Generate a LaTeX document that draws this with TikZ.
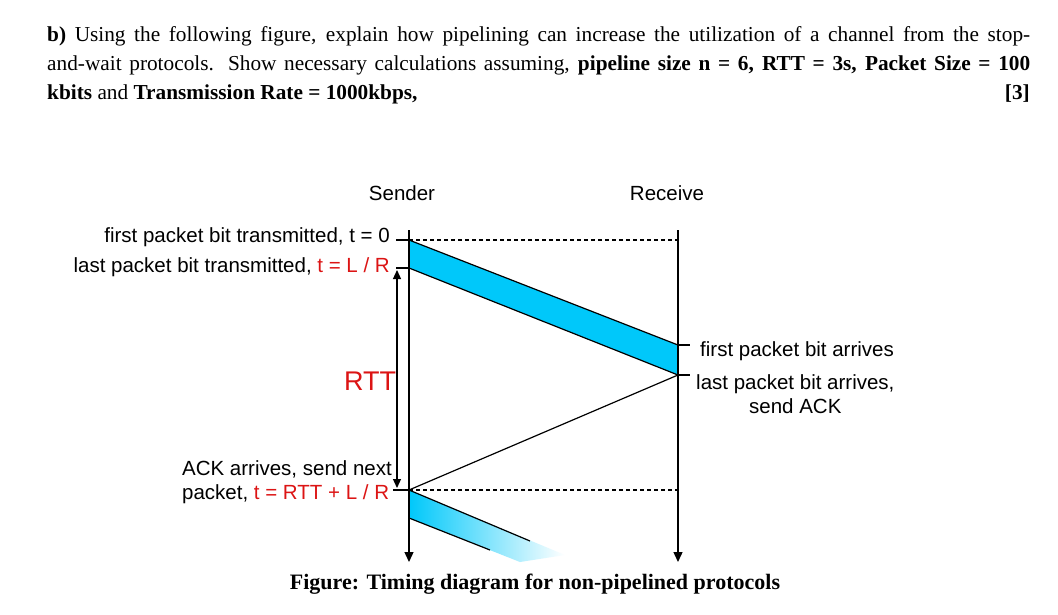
\documentclass[tikz,border=0pt]{standalone}
\usepackage{fontspec}
\setmainfont{Liberation Serif}
\newfontfamily\arialf{Liberation Sans}
\usetikzlibrary{arrows.meta}
\definecolor{pk}{RGB}{0,200,250}
\definecolor{rd}{RGB}{220,20,20}
\begin{document}
\begin{tikzpicture}[x=1pt,y=-1pt,
  lbl/.style={font=\arialf\fontsize{20.5}{24}\selectfont,inner sep=0pt},
  hdr/.style={font=\fontsize{21.3}{24}\selectfont,inner sep=0pt,anchor=west},
  tl/.style={-{Triangle[length=10pt,width=9pt]},line width=1.3pt},
  thinl/.style={line width=1.2pt}]
\useasboundingbox (0,0) rectangle (1058,614);
\fill[white] (0,0) rectangle (1058,614);
% header
\node[hdr] (h1) at (47,36) {\makebox[983pt][s]{\textbf{b)} Using the following figure, explain how pipelining can increase the utilization of a channel from the stop-}};
\node[hdr] (h2) at (47,65) {\makebox[983pt][s]{and-wait protocols. Show necessary calculations assuming, \textbf{pipeline size n = 6, RTT = 3s, Packet Size = 100}}};
\node[hdr] (h3) at (47,94) {\textbf{kbits} and \textbf{Transmission Rate = 1000kbps,}};
\node[hdr,anchor=east] (h4) at (1030,94) {\textbf{[3]}};
% coordinates
\coordinate (s0) at (409,230); \coordinate (s1) at (409,562);
\coordinate (r0) at (678,230); \coordinate (r1) at (678,562);
\coordinate (a) at (409,240); \coordinate (b) at (409,268);
\coordinate (c) at (678,345); \coordinate (d) at (678,375);
\coordinate (e) at (409,490); \coordinate (f) at (409,518);
% packet
\fill[pk,draw=black,thinl] (a) -- (c) -- (d) -- (b) -- cycle;
% next packet
\shade[left color=pk,right color=white,shading angle=90] (e) -- (565,555) -- (520,562) -- (f) -- cycle;
\draw[thinl] (e) -- (530,541);
\draw[thinl] (f) -- (490,550);
% lines
\draw[tl] (s0) -- (s1);
\draw[tl] (r0) -- (r1);
\draw[thinl,dash pattern=on 4pt off 3pt] (a) -- (a -| r0);
\draw[thinl,dash pattern=on 4pt off 3pt] (e) -- (e -| r0);
\draw[thinl] (d) -- (e);
\draw[thinl] (396,240) -- (a);
\draw[thinl] (396,268) -- (b);
\draw[thinl] (393,490) -- (e);
\draw[thinl] (c) -- (690,345);
\draw[thinl] (d) -- (690,375);
\draw[thinl,{Triangle[length=9pt,width=8pt]}-{Triangle[length=9pt,width=8pt]}] (397,270) -- (397,488);
% labels
\node[lbl] (snd) at (402,193) {Sender};
\node[lbl] (rcv) at (667,193) {Receive};
\node[lbl,anchor=east] (l1) at (390,237) {first packet bit transmitted, t = 0};
\node[lbl,anchor=east] (l2) at (390,267) {last packet bit transmitted, \textcolor{rd}{t = L / R}};
\node[lbl,font=\arialf\fontsize{27}{30}\selectfont,text=rd] (rtt) at (370,381) {RTT};
\node[lbl,anchor=east,align=left] (l3) at (392,482) {ACK arrives, send next\\packet, \textcolor{rd}{t = RTT + L / R}};
\node[lbl,anchor=west] (l4) at (700,351) {first packet bit arrives};
\node[lbl,anchor=west,align=center] (l5) at (696,394) {last packet bit arrives,\\send ACK};
\node[font=\bfseries\fontsize{22}{25}\selectfont,inner sep=0pt] (cap) at (535,584) {Figure: Timing diagram for non-pipelined protocols};
\end{tikzpicture}
\end{document}
